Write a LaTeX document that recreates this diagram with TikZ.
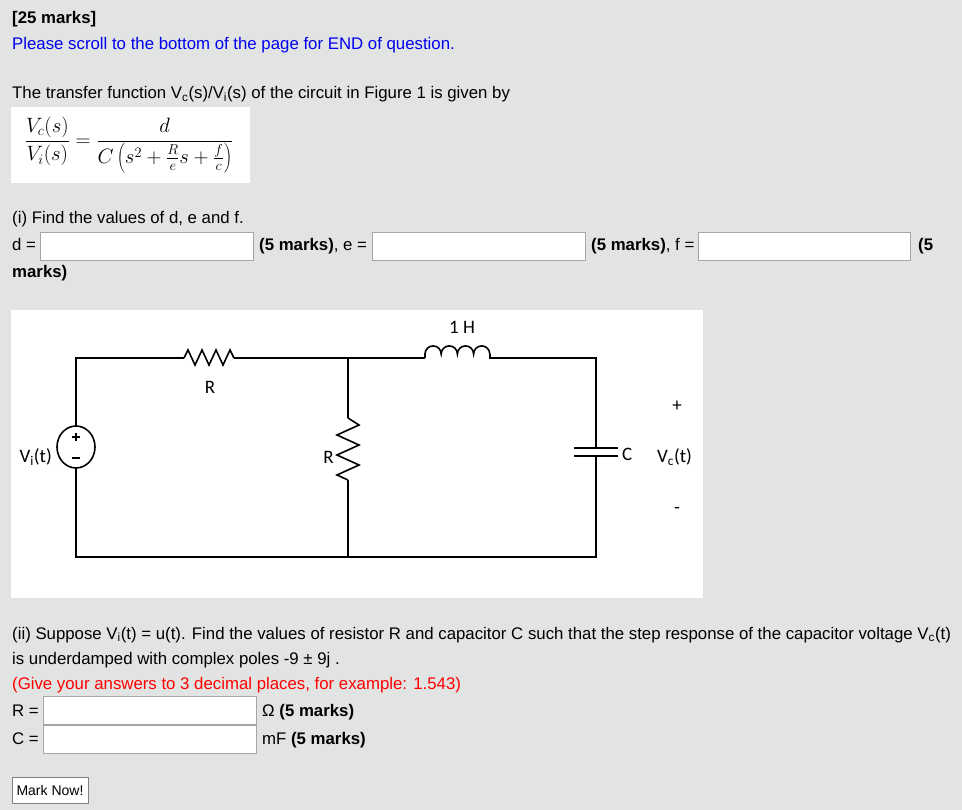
\documentclass[tikz,border=0pt]{standalone}
\usepackage{fontspec}
\setmainfont{Liberation Sans}
\setsansfont{Carlito}
\usetikzlibrary{decorations.pathmorphing}
\definecolor{bg}{RGB}{226,228,227}
\definecolor{bluetxt}{RGB}{0,0,238}
\begin{document}
\begin{tikzpicture}[x=1pt,y=-1pt,font=\fontsize{16.8}{20}\selectfont,
  txt/.style={anchor=base west,inner sep=0pt},
  inbox/.style={draw=gray!70,fill=white,line width=0.8pt},
  wire/.style={line width=1.6pt},
  lbl/.style={font=\fontsize{19}{22}\sffamily\selectfont,inner sep=0pt}]
\useasboundingbox (0,0) rectangle (962,810);
\fill[bg] (0,0) rectangle (962,810);
\node[txt] (t1) at (12,24) {\textbf{[25 marks]}};
\node[txt,text=bluetxt] (t2) at (12,50) {Please scroll to the bottom of the page for END of question.};
\node[txt] (t3) at (12,99) {The transfer function V\textsubscript{c}(s)/V\textsubscript{i}(s) of the circuit in Figure 1 is given by};
\fill[white] (11,107) rectangle (250,183);
\node[inner sep=0pt,font=\fontsize{20.5}{24}\selectfont] (eq) at (129,145) {$\displaystyle \frac{V_c(s)}{V_i(s)}=\frac{d}{C\left(s^2+\frac{R}{e}s+\frac{f}{c}\right)}$};
\node[txt] (t4) at (12,224) {(i) Find the values of d, e and f.};
\node[txt] (d) at (12,251) {d =};
\draw[inbox] (40,232) rectangle (253,260);
\node[txt] (m1) at (259,251) {\textbf{(5 marks)}, e =};
\draw[inbox] (372,232) rectangle (585,260);
\node[txt] (m2) at (591,251) {\textbf{(5 marks)}, f =};
\draw[inbox] (698,232) rectangle (910,260);
\node[txt] (m3) at (918,251) {\textbf{(5}};
\node[txt] (m4) at (12,278) {\textbf{marks)}};
% circuit
\fill[white] (11,310) rectangle (703,598);
\coordinate (tl) at (76,358); \coordinate (tm) at (348,358); \coordinate (tr) at (596,358);
\coordinate (bl) at (76,557); \coordinate (bm) at (348,557); \coordinate (br) at (596,557);
\draw[wire] (76,426) -- (tl) -- (184,358);
\draw[wire] (184,358) -- (188,350) -- (195,365) -- (202,350) -- (209,365) -- (216,350) -- (223,365) -- (230,350) -- (234,358);
\draw[wire] (234,358) -- (tm) -- (425,358);
\draw[wire] (425,358) -- (425,354);
\draw[wire] (425,354) arc (180:360:8.1) arc (180:360:8.1) arc (180:360:8.1) arc (180:360:8.1);
\draw[wire] (489.8,354) -- (489.8,358) -- (tr) -- (596,448);
\draw[wire] (574,448) -- (618,448); \draw[wire] (574,456) -- (618,456);
\draw[wire] (596,456) -- (br) -- (bl) -- (76,468);
\draw[wire] (tm) -- (348,418);
\draw[wire] (348,418) -- (359,425) -- (337,435) -- (359,445) -- (337,455) -- (359,465) -- (337,475) -- (348,480);
\draw[wire] (348,480) -- (bm);
\draw[wire] (76,447) ellipse (19 and 21);
\draw[line width=1.4pt] (72,437) -- (80,437) (76,433) -- (76,441);
\draw[line width=1.8pt] (72,458) -- (80,458);
\node[lbl,anchor=east] (vi) at (52,457) {V\textsubscript{i}(t)};
\node[lbl] (r1) at (210,387) {R};
\node[lbl,anchor=east] (r2) at (334,457) {R};
\node[lbl] (lh) at (462,327) {1 H};
\node[lbl,anchor=west] (c) at (622,454) {C};
\node[lbl,anchor=west] (vc) at (657,457) {V\textsubscript{c}(t)};
\node[lbl] (plus) at (677,406) {+};
\node[lbl] (minus) at (677,510) {-};
% part ii
\node[txt] (p1) at (12,639) {(ii) Suppose V\textsubscript{i}(t) = u(t). Find the values of resistor R and capacitor C such that the step response of the capacitor voltage V\textsubscript{c}(t)};
\node[txt] (p2) at (12,664) {is underdamped with complex poles -9 ± 9j .};
\node[txt,text=red] (p3) at (12,689) {(Give your answers to 3 decimal places, for example: 1.543)};
\node[txt] (rr) at (12,716) {R =};
\draw[inbox] (43,696) rectangle (256,724);
\node[txt] (rm) at (262,716) {Ω \textbf{(5 marks)}};
\node[txt] (cc) at (12,744) {C =};
\draw[inbox] (43,725) rectangle (256,753);
\node[txt] (cm) at (262,744) {mF \textbf{(5 marks)}};
\node[draw=gray,fill=white,line width=0.8pt,minimum width=76pt,minimum height=26pt,inner sep=0pt,font=\fontsize{14}{16}\selectfont] (btn) at (50,790) {Mark Now!};
\end{tikzpicture}
\end{document}
